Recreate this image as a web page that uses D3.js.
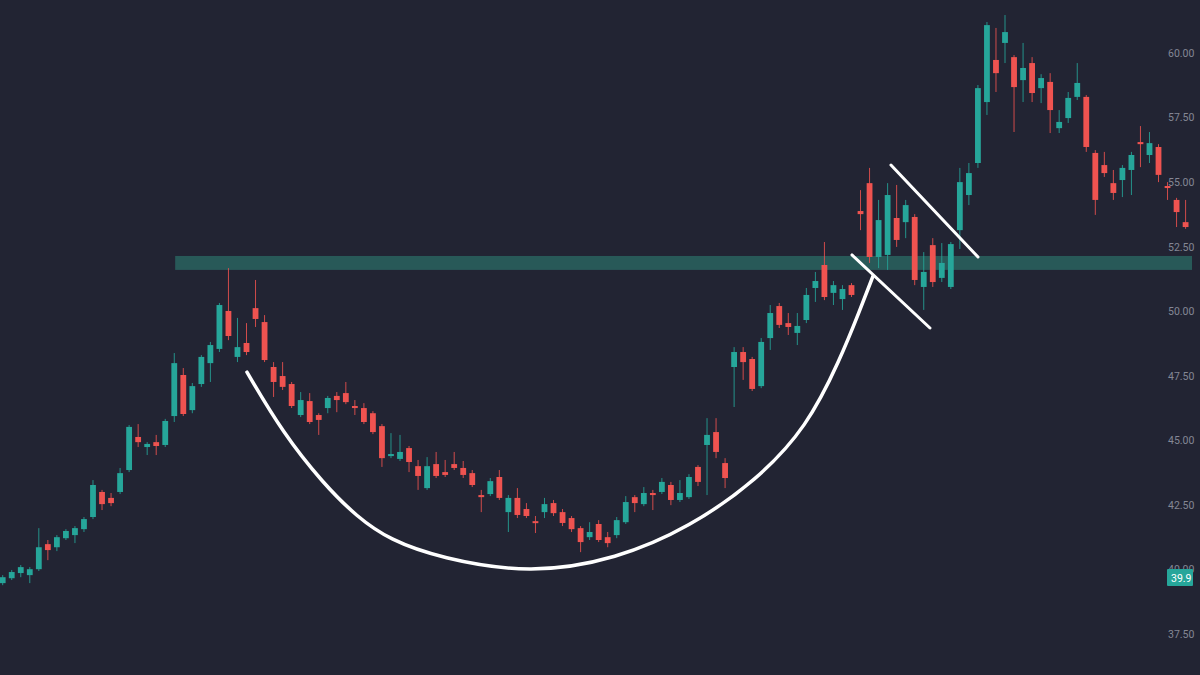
<!DOCTYPE html>
<meta charset="utf-8">
<script src="https://d3js.org/d3.v7.min.js"></script>
<style>
  body { margin: 0; background: #222433; overflow: hidden; }
</style>
<div id="my_dataviz"></div>
<script>
// candles, one value per bar (open / high / low / close)
var opens = [39.47,39.66,39.86,39.78,40.01,40.98,40.86,41.21,41.33,41.56,42.03,43.00,42.77,43.00,43.85,45.13,44.74,44.93,44.82,45.94,
  47.53,46.17,47.18,47.99,48.54,50.01,48.23,48.77,50.12,49.58,47.84,47.49,47.18,45.98,46.52,45.98,46.25,46.72,46.83,46.33,
  46.25,46.05,45.55,44.39,44.28,44.70,44.00,43.15,44.08,43.77,44.08,43.93,43.73,42.88,42.92,43.58,42.22,42.77,42.34,41.87,
  42.22,42.57,42.22,41.99,41.60,41.25,41.76,41.25,41.33,41.83,42.80,42.53,42.96,43.00,43.27,42.69,42.80,43.97,44.82,45.32,
  44.12,47.84,48.42,48.15,47.10,48.96,50.20,49.54,49.16,49.66,50.90,51.79,50.71,50.47,51.01,53.88,54.96,52.10,52.18,53.61,
  53.45,53.65,50.94,52.56,51.29,50.94,53.14,54.50,55.74,58.10,59.73,60.39,59.84,58.95,59.61,58.64,58.88,57.09,57.48,58.30,
  58.30,56.13,55.66,54.96,55.08,55.47,56.55,56.05,56.36,54.85,54.31,53.45];
var highs = [39.78,39.98,40.17,40.09,41.60,41.14,41.33,41.56,41.68,42.03,43.46,43.08,42.96,43.93,45.59,45.63,44.93,45.21,45.83,48.38,
  47.80,47.22,48.30,48.81,50.32,51.67,49.74,49.54,51.21,49.85,48.03,48.03,47.26,46.87,46.83,46.05,46.72,46.87,47.26,46.56,
  46.44,46.13,45.63,45.28,45.21,44.78,44.24,44.35,44.55,44.24,44.55,44.20,43.85,43.08,43.54,43.85,42.88,43.15,42.57,42.07,
  42.77,42.69,42.34,42.07,41.68,41.83,41.91,41.45,42.03,42.84,42.88,43.19,43.08,43.54,43.39,43.46,43.69,44.04,45.86,45.86,
  44.31,48.61,48.61,48.23,48.96,50.24,50.32,49.93,49.93,50.90,51.52,52.68,51.17,51.01,51.09,54.69,55.55,54.31,54.96,54.89,
  54.31,53.76,52.29,52.83,52.64,52.68,55.55,55.74,58.76,61.20,60.97,61.47,59.92,60.39,59.84,59.18,59.22,57.79,58.49,59.61,
  58.37,56.24,56.17,55.47,55.66,56.17,57.17,56.94,56.47,55.00,54.39,54.31];
var lows = [39.39,39.59,39.70,39.47,39.94,40.36,40.71,41.14,41.02,41.45,41.95,42.30,42.45,42.92,43.77,44.74,44.43,44.43,44.74,45.71,
  45.94,46.05,47.07,47.26,48.42,48.88,48.03,48.30,49.39,48.03,46.68,46.95,46.25,45.90,45.63,45.21,46.05,46.09,46.40,45.98,
  45.63,45.24,43.97,44.31,44.20,43.77,43.08,43.08,43.54,43.58,43.85,43.54,43.19,42.22,42.84,42.69,41.45,41.99,41.99,41.41,
  41.99,42.07,41.68,41.45,40.67,41.14,41.06,40.86,41.21,41.76,42.22,42.45,42.30,42.92,42.49,42.61,42.73,43.23,42.88,44.31,
  43.15,46.29,47.34,46.91,47.02,48.50,49.35,49.08,48.69,49.54,50.36,50.43,50.24,50.05,50.55,53.14,51.87,51.67,51.60,52.49,
  52.83,51.01,50.05,50.94,51.13,50.86,52.41,54.11,55.55,57.60,58.49,59.61,56.94,58.10,58.10,58.06,56.90,56.90,57.29,58.18,
  56.17,53.73,55.20,54.31,54.42,54.50,55.58,55.74,55.00,54.31,53.26,53.19];
var closes = [39.70,39.90,40.09,40.01,40.86,40.75,41.25,41.49,41.60,41.95,43.27,42.53,42.57,43.73,45.52,44.93,44.86,44.78,45.75,47.99,
  46.02,47.10,48.23,48.69,50.24,49.04,48.61,48.42,49.70,48.11,47.26,47.07,46.33,46.56,45.71,45.79,46.64,46.56,46.48,46.25,
  45.71,45.32,44.31,44.47,44.55,44.16,43.62,44.00,43.62,43.66,43.93,43.66,43.27,42.80,43.42,42.77,42.77,42.11,42.07,41.80,
  42.53,42.18,41.80,41.56,41.06,41.45,41.14,41.02,41.91,42.61,42.57,42.96,42.88,43.39,42.69,42.96,43.58,43.39,45.21,44.55,
  43.54,48.42,48.03,46.99,48.81,49.93,49.47,49.39,49.43,50.63,51.17,50.55,51.01,50.86,50.63,53.76,52.10,53.53,54.50,52.76,
  54.11,51.21,51.52,51.13,51.87,52.60,55.00,55.35,58.64,61.08,59.22,60.81,58.68,59.42,58.45,59.03,57.79,57.33,58.26,58.84,
  56.36,54.31,55.35,54.58,55.55,56.05,56.47,56.51,55.28,54.77,53.84,53.26];

// price axis labels
var tickValues = [37.5, 40, 42.5, 45, 47.5, 50, 52.5, 55, 57.5, 60];
var lastPrice = 39.9;

// resistance zone (price range) and where it starts (bar index)
var zoneLow = 51.6, zoneHigh = 52.14, zoneStart = 19.1;

// drawn annotations: cup curve and the two handle lines, as [bar index, price]
var cupPoints = [[27.05,47.64],[31.04,45.28],[35.47,43.34],[39.24,42.03],[42.89,41.14],[48.43,40.44],[58.4,39.82],
  [68.03,40.40],[76.11,41.64],[83.53,43.46],[89.07,45.52],[92.72,48.11],[94.94,50.05],[96.38,51.36]];
var handleLines = [[[94.05,52.18],[102.69,49.35]], [[98.37,55.66],[108.01,52.10]]];

var width = 1200, height = 675;
var up = "#26a69a", down = "#ef5350";

var svg = d3.select("#my_dataviz")
  .append("svg")
    .attr("width", width)
    .attr("height", height)
    .style("background", "#222433");

var x = d3.scaleLinear()
  .domain([0, opens.length - 1])
  .range([2.7, 1185.6]);

var y = d3.scaleLinear()
  .domain([37.5, 60])
  .range([634, 53]);

// price axis on the right
var axis = svg.append("g")
  .attr("transform", "translate(1168,0)")
  .call(d3.axisRight(y).tickValues(tickValues).tickSize(0).tickPadding(0)
    .tickFormat(d3.format(".2f")));
axis.select(".domain").remove();
axis.selectAll("text")
  .attr("fill", "#848795")
  .style("font-family", "Roboto, 'Open Sans', sans-serif")
  .style("font-size", "10.5px");

// resistance zone
svg.append("rect")
  .attr("x", x(zoneStart))
  .attr("y", y(zoneHigh))
  .attr("width", 1192 - x(zoneStart))
  .attr("height", y(zoneLow) - y(zoneHigh))
  .attr("fill", "#2b6b66")
  .attr("opacity", 0.75);

// candles
var idx = d3.range(opens.length);
var candles = svg.append("g").selectAll("g")
  .data(idx)
  .enter()
  .append("g")
    .attr("fill", function(i) { return closes[i] >= opens[i] ? up : down; })
    .attr("stroke", function(i) { return closes[i] >= opens[i] ? up : down; });

candles.append("line")
  .attr("x1", function(i) { return x(i); })
  .attr("x2", function(i) { return x(i); })
  .attr("y1", function(i) { return y(highs[i]); })
  .attr("y2", function(i) { return y(lows[i]); })
  .attr("stroke-width", 1)
  .attr("opacity", 0.85);

candles.append("rect")
  .attr("x", function(i) { return x(i) - 2.9; })
  .attr("width", 5.8)
  .attr("y", function(i) { return y(Math.max(opens[i], closes[i])); })
  .attr("height", function(i) { return Math.max(2, Math.abs(y(opens[i]) - y(closes[i]))); })
  .attr("stroke", "none");

// cup
var line = d3.line()
  .x(function(d) { return x(d[0]); })
  .y(function(d) { return y(d[1]); })
  .curve(d3.curveBasis);

svg.append("path")
  .attr("d", line(cupPoints))
  .attr("fill", "none")
  .attr("stroke", "#ffffff")
  .attr("stroke-width", 3.5)
  .attr("stroke-linecap", "round");

// handle lines
svg.selectAll(".handle")
  .data(handleLines)
  .enter()
  .append("path")
    .attr("class", "handle")
    .attr("d", function(d) { return d3.line().x(function(p) { return x(p[0]); }).y(function(p) { return y(p[1]); })(d); })
    .attr("stroke", "#ffffff")
    .attr("stroke-width", 3)
    .attr("stroke-linecap", "round");

// last price label
var lp = svg.append("g").attr("transform", "translate(1167," + (y(lastPrice) + 5.5) + ")");
lp.append("rect")
  .attr("x", 0).attr("y", -8.5)
  .attr("width", 26).attr("height", 17)
  .attr("rx", 1)
  .attr("fill", up);
lp.append("text")
  .attr("x", 4).attr("y", 4)
  .attr("fill", "#ffffff")
  .style("font-family", "Roboto, 'Open Sans', sans-serif")
  .style("font-size", "10.5px")
  .text(lastPrice.toFixed(1));
</script>
